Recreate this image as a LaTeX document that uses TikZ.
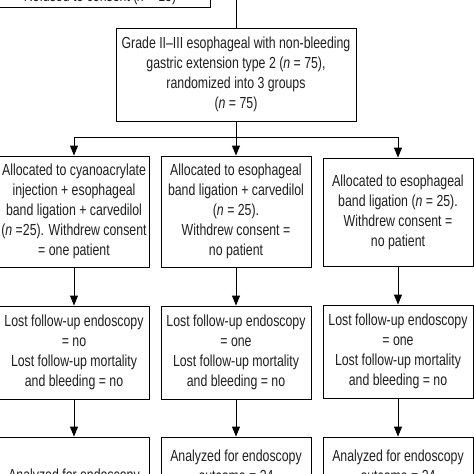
\documentclass[tikz,border=0pt]{standalone}
\usepackage{fontspec}
\setmainfont[FakeStretch=0.77]{Liberation Sans}
\usetikzlibrary{arrows.meta}
\begin{document}
\begin{tikzpicture}[x=1pt,y=-1pt,
  box/.style={draw=black, line width=0.9pt, minimum width=150pt, inner sep=0pt, align=center, font=\fontsize{16}{20}\selectfont, text=black!88},
  arr/.style={draw=black, line width=0.9pt, -{Triangle[width=8pt,length=10pt]}},
  ln/.style={draw=black, line width=0.9pt}]
\useasboundingbox (0,0) rectangle (474,474);
% top (cut-off) box
\node[box, minimum width=220pt, minimum height=20pt, anchor=south] (refused) at (100,8) {Refused to consent (\textit{n} = 18)};
% main box
\node[box, minimum width=240pt, minimum height=93pt] (main) at (236,74.5) {Grade II–III esophageal with non-bleeding\\ gastric extension type 2 (\textit{n} = 75),\\ randomized into 3 groups\\ (\textit{n} = 75)};
% row 1
\node[box, minimum height=111pt] (a1) at (74,211.5) {Allocated to cyanoacrylate\\ injection + esophageal\\ band ligation + carvedilol\\ (\textit{n} =25). Withdrew consent\\ = one patient};
\node[box, minimum height=111pt] (b1) at (236,211.5) {Allocated to esophageal\\ band ligation + carvedilol\\ (\textit{n} = 25).\\ Withdrew consent =\\ no patient};
\node[box, minimum height=108pt] (c1) at (398,212) {Allocated to esophageal\\ band ligation (\textit{n} = 25).\\ Withdrew consent =\\ no patient};
% row 2
\node[box, minimum height=93pt] (a2) at (74,352.5) {Lost follow-up endoscopy\\ = no\\ Lost follow-up mortality\\ and bleeding = no};
\node[box, minimum height=93pt] (b2) at (236,352.5) {Lost follow-up endoscopy\\ = one\\ Lost follow-up mortality\\ and bleeding = no};
\node[box, minimum height=93pt] (c2) at (398,351.5) {Lost follow-up endoscopy\\ = one\\ Lost follow-up mortality\\ and bleeding = no};
% row 3 (cut off)
\node[box, minimum height=78pt] (a3) at (74,476) {Analyzed for endoscopy};
\node[box, minimum height=58pt] (b3) at (236,466) {Analyzed for endoscopy\\ outcome = 24};
\node[box, minimum height=58pt] (c3) at (398,466) {Analyzed for endoscopy\\ outcome = 24};
% connectors
\coordinate (topin) at (236,-5);
\coordinate (split) at (236,137);
\draw[ln] (topin) -- (topin |- main.north);
\draw[ln] (main.south) -- (split);
\draw[ln] (a1.north |- split) -- (c1.north |- split);
\draw[arr] (a1.north |- split) -- (a1.north);
\draw[arr] (split) -- (b1.north);
\draw[arr] (c1.north |- split) -- (c1.north);
\draw[arr] (a1) -- (a2);
\draw[arr] (b1) -- (b2);
\draw[arr] (c1) -- (c2);
\draw[arr] (a2) -- (a3);
\draw[arr] (b2) -- (b3);
\draw[arr] (c2) -- (c3);
\end{tikzpicture}
\end{document}
